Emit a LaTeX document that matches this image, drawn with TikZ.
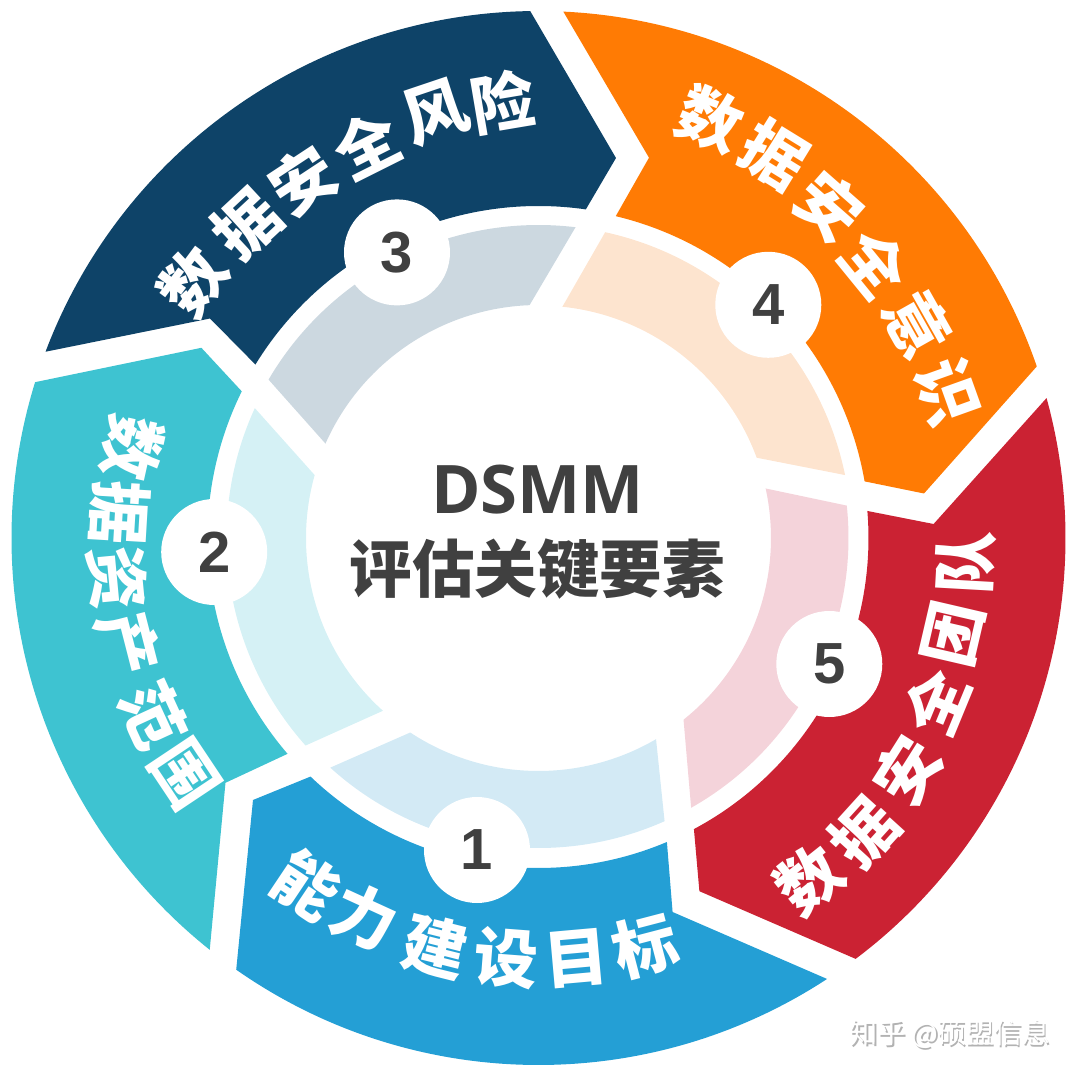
\documentclass[tikz,border=0pt]{standalone}
\usepackage{fontspec}
\newfontfamily\cjk{Noto Sans CJK SC}
\newfontfamily\opensans{Open Sans}
\newfontfamily\liberation{Liberation Sans}
\definecolor{navyseg}{HTML}{0E4368}
\definecolor{orangeseg}{HTML}{FF7B04}
\definecolor{redseg}{HTML}{CB2233}
\definecolor{blueseg}{HTML}{249FD5}
\definecolor{tealseg}{HTML}{3EC3D1}
\definecolor{navytint}{HTML}{CCD8E0}
\definecolor{orangetint}{HTML}{FDE4CF}
\definecolor{redtint}{HTML}{F4D3DA}
\definecolor{bluetint}{HTML}{D3EAF5}
\definecolor{tealtint}{HTML}{D5F1F5}
\definecolor{darktext}{HTML}{404040}
\tikzset{ringchar/.style={text=white,inner sep=0pt,font=\cjk\bfseries\fontsize{64}{64}\selectfont}}
\tikzset{badge/.style={circle,fill=white,minimum size=106pt,inner sep=0pt,text=darktext,font=\liberation\bfseries\fontsize{58}{58}\selectfont}}
\tikzset{mark text/.style={inner sep=0pt,font=\cjk\fontsize{28}{28}\selectfont}}

\begin{document}
\begin{tikzpicture}[x=1pt,y=1pt]
\useasboundingbox (-538.5,538) rectangle (541.5,-541);
% outer ring
\fill[navyseg] (159.3:527) arc[start angle=159.3,end angle=90.9,radius=527] -- (77.5,380) -- (81.8:332) arc[start angle=81.8,end angle=148.5,radius=332] -- (-328.5,219.5) -- cycle;
\fill[orangeseg] (87.3:527) arc[start angle=87.3,end angle=19,radius=527] -- (385.5,44.5) -- (9.85:331) arc[start angle=9.85,end angle=76.5,radius=331] -- (110.5,380.3) -- cycle;
\fill[redseg] (15.4:527) arc[start angle=15.4,end angle=-53,radius=527] -- (160.9,-353.2) -- (-61.9:330) arc[start angle=-61.9,end angle=4.7,radius=330] -- (395.1,14) -- cycle;
\fill[blueseg] (235:527) arc[start angle=235,end angle=303.2,radius=527] -- (134.1,-374) -- (292.9:330) arc[start angle=292.9,end angle=226.3,radius=330] -- (-285.5,-262) -- cycle;
\fill[tealseg] (162.8:527) arc[start angle=162.8,end angle=231.4,radius=527] -- (-313,-244.8) -- (220.7:331) arc[start angle=220.7,end angle=153.7,radius=331] -- (-337.1,190.2) -- cycle;
% inner ring
\fill[navytint] (149.6:313) arc[start angle=149.6,end angle=83.2,radius=313] -- (92.2:233) arc[start angle=92.2,end angle=156.1,radius=233] -- cycle;
\fill[orangetint] (77.7:313) arc[start angle=77.7,end angle=11.6,radius=313] -- (20.2:232.5) arc[start angle=20.2,end angle=84.1,radius=232.5] -- cycle;
\fill[redtint] (6:310) arc[start angle=6,end angle=-60.5,radius=310] -- (-51.4:232.5) arc[start angle=-51.4,end angle=12.3,radius=232.5] -- cycle;
\fill[bluetint] (227.8:310) arc[start angle=227.8,end angle=294,radius=310] -- (300.3:233) arc[start angle=300.3,end angle=236.6,radius=233] -- cycle;
\fill[tealtint] (155.4:312) arc[start angle=155.4,end angle=221.7,radius=312] -- (228:232.5) arc[start angle=228,end angle=164.3,radius=232.5] -- cycle;
% numbered badges
\node[badge] at (-61.5,-312) (one) {1};
\node[badge] at (-324.3,-14) (two) {2};
\node[badge] at (-141.5,285.6) (three) {3};
\node[badge] at (229.8,233.2) (four) {4};
\node[badge] at (290.8,-126) (five) {5};
% ring labels, one character at a time
\foreach \ch/\ang/\rad [count=\i] in {能/236.2/417,力/245.4/417,建/255.9/421,设/265.6/421.6,目/275.1/422,标/284.6/422}
  \node[ringchar,rotate=\ang+90] at (\ang:\rad) (goal\i) {\ch};
\foreach \ch/\ang/\rad [count=\i] in {数/167.5/416,据/176.6/420,资/185.4/423.4,产/194.4/424,范/204.7/424.3,围/213.7/425.8}
  \node[ringchar,rotate=\ang+90] at (\ang:\rad) (asset\i) {\ch};
\foreach \ch/\ang/\rad/\tw [count=\i] in {数/143.4/430.6/0,据/132.9/429/0,安/123.4/427.8/0,全/113.6/429.3/3,风/103.6/438/5,险/94.6/437.8/5}
  \node[ringchar,rotate=\ang-90+\tw] at (\ang:\rad) (risk\i) {\ch};
\foreach \ch/\ang/\rad [count=\i] in {数/67.7/453,据/58.4/449.6,安/48.7/441,全/39.2/434.8,意/29.4/436,识/19.7/435}
  \node[ringchar,rotate=\ang-90] at (\ang:\rad) (aware\i) {\ch};
\foreach \ch/\ang/\rad [count=\i] in {数/-51.5/436,据/-42.2/439,安/-32.3/435.6,全/-22.4/430,团/-13.1/425.8,队/-3.2/427}
  \node[ringchar,rotate=\ang+90] at (\ang:\rad) (team\i) {\ch};
% centre
\node[text=darktext,inner sep=0pt,font=\opensans\bfseries\fontsize{67}{67}\selectfont] at (-1,48) (dsmm) {DSMM};
\node[text=darktext,inner sep=0pt,font=\cjk\bfseries\fontsize{62.5}{62.5}\selectfont] at (-1,-31) (title) {评估关键要素};
% watermark
\node[mark text,text=gray!60] at (413,-498) (markshadow) {知乎 @硕盟信息};
\node[mark text,text=white] at (411.5,-496.5) (marktop) {知乎 @硕盟信息};
\end{tikzpicture}
\end{document}
